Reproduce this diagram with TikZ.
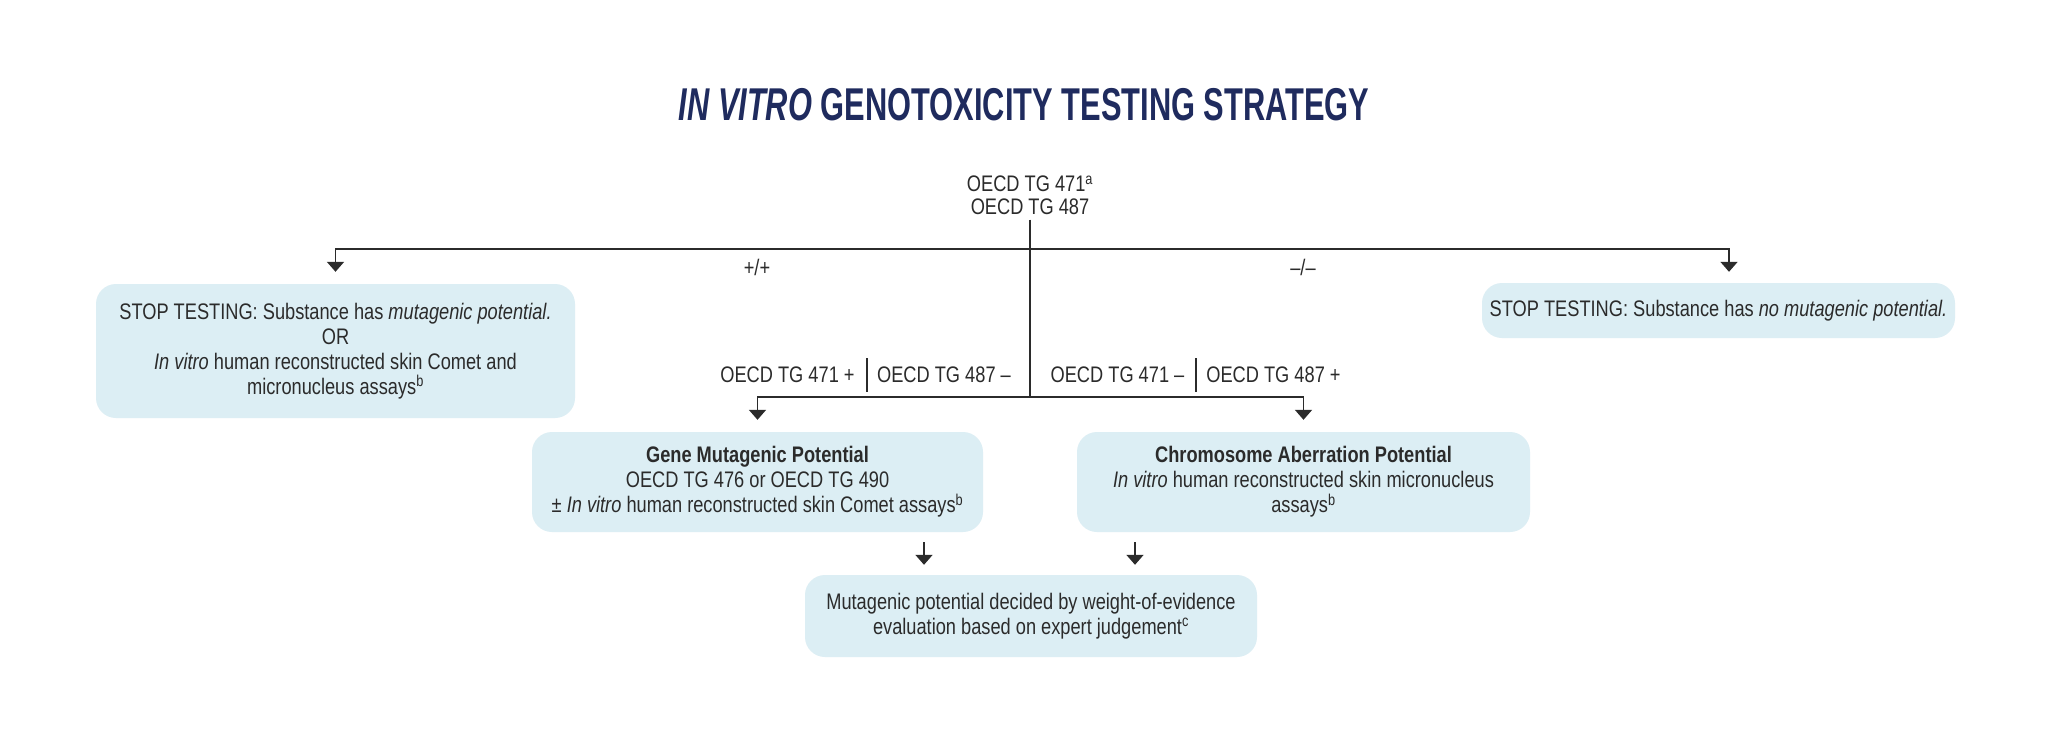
\documentclass[tikz,border=0pt]{standalone}
\usepackage{fontspec}
\setmainfont[FakeStretch=0.81]{Liberation Sans}
\newfontfamily\titlefont[FakeStretch=0.67]{Liberation Sans}
\usetikzlibrary{arrows.meta,calc}
\definecolor{boxblue}{HTML}{DCEEF4}
\definecolor{navy}{HTML}{1F2B5E}
\definecolor{ink}{HTML}{2B2B2B}
\begin{document}
\begin{tikzpicture}[x=1pt,y=-1pt,
  every node/.style={text=ink, font=\fontsize{22.5}{25}\selectfont},
  box/.style={fill=boxblue, rounded corners=20pt, align=center, inner sep=0pt},
  conn/.style={draw=ink, line width=1.8pt},
  arr/.style={conn, -{Triangle[width=17pt,length=10pt]}},
  sepbar/.style={draw=ink, line width=1.3pt},
  lbl/.style={inner sep=0pt}]
\fill[white] (0,0) rectangle (2048,744);
\useasboundingbox (0,0) rectangle (2048,744);

% title
\node[font=\titlefont\fontsize{46}{50}\selectfont\bfseries, text=navy, anchor=base] (title) at (1024,120)
  {\textit{IN VITRO} GENOTOXICITY TESTING STRATEGY};

% start
\node[inner sep=0pt, align=center, font=\fontsize{22.5}{22.5}\selectfont] (top) at (1030,195)
  {OECD TG 471\textsuperscript{a}\\OECD TG 487};

% boxes
\node[box, minimum width=479pt, minimum height=134pt] (stopL) at (335.5,351)
  {STOP TESTING: Substance has \textit{mutagenic potential.}\\OR\\\textit{In vitro} human reconstructed skin Comet and\\micronucleus assays\textsuperscript{b}};
\node[box, minimum width=473pt, minimum height=55pt] (stopR) at (1718.5,310.5)
  {STOP TESTING: Substance has \textit{no mutagenic potential.}};
\node[box, minimum width=451pt, minimum height=100pt] (gene) at (757.5,482)
  {\textbf{Gene Mutagenic Potential}\\OECD TG 476 or OECD TG 490\\± \textit{In vitro} human reconstructed skin Comet assays\textsuperscript{b}};
\node[box, minimum width=453pt, minimum height=100pt] (chrom) at (1303.5,482)
  {\textbf{Chromosome Aberration Potential}\\\textit{In vitro} human reconstructed skin micronucleus\\assays\textsuperscript{b}};
\node[box, minimum width=452pt, minimum height=82pt] (final) at (1031,616)
  {Mutagenic potential decided by weight-of-evidence\\evaluation based on expert judgement\textsuperscript{c}};

% labels
\node[lbl] (pp) at (757,267) {+/+};
\node[lbl] (mm) at (1303,267) {–/–};
\node[lbl, anchor=base] (l1) at (787.5,382) {OECD TG 471 +};
\node[lbl, anchor=base] (l2) at (944,382) {OECD TG 487 –};
\node[lbl, anchor=base] (l3) at (1117.5,382) {OECD TG 471 –};
\node[lbl, anchor=base] (l4) at (1273.5,382) {OECD TG 487 +};

% separator bars
\coordinate (b1t) at (867,358); \coordinate (b1b) at (867,392);
\coordinate (b2t) at (1196,358); \coordinate (b2b) at (1196,392);
\draw[sepbar] (b1t) -- (b1b);
\draw[sepbar] (b2t) -- (b2b);

% junctions
\coordinate (j1) at (1030,249);
\coordinate (j2) at (1030,397);
\coordinate (s1) at (924,542);
\coordinate (s2) at (1135,542);

% connectors
\draw[conn, shorten <=5pt] (top) -- (j2);
\draw[arr, shorten >=12pt] (j1) -| (stopL.north);
\draw[arr, shorten >=11pt] (j1) -| ([xshift=10.5pt]stopR.north);
\draw[arr, shorten >=12pt] (j2) -| (gene.north);
\draw[arr, shorten >=12pt] (j2) -| (chrom.north);
\draw[arr, shorten >=10pt] (s1) -- (s1 |- final.north);
\draw[arr, shorten >=10pt] (s2) -- (s2 |- final.north);
\end{tikzpicture}
\end{document}
